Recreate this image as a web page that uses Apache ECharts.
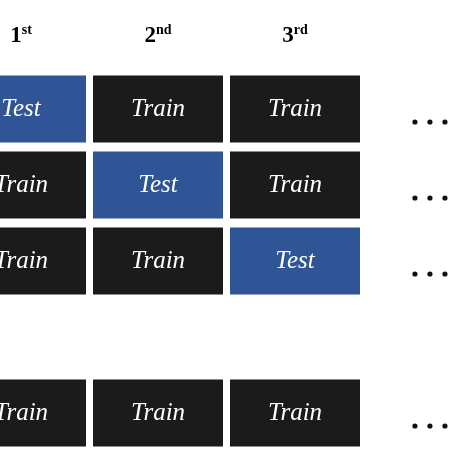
<!DOCTYPE html><html><head><meta charset="utf-8">
<script src="https://cdn.jsdelivr.net/npm/echarts@6/dist/echarts.min.js"></script>
<style>html,body{margin:0;padding:0;background:#fff}#c{width:453px;height:453px}</style></head><body><div id="c"></div>
<script>
const columns = [0, 1, 2];
const rows = [0, 1, 2, 4];
const testColumnByRow = [0, 1, 2, -1];
const headerBase = ["1", "2", "3"];
const headerSup = ["st", "nd", "rd"];
const dotsColumn = 2.985;

const cells = [];
rows.forEach((r, i) => columns.forEach(c => cells.push([c, r, testColumnByRow[i] === c ? 1 : 0])));
const headers = columns.map(c => [c, -0.97, c]);
const dots = rows.map(r => [dotsColumn, r]);

const chart = echarts.init(document.getElementById('c'));
chart.setOption({
  animation: false,
  grid: {left: 0, right: 0, top: 0, bottom: 0},
  xAxis: {type: 'value', min: -21/137, max: 432/137, show: false},
  yAxis: {type: 'value', inverse: true, min: -109/76, max: 344/76, show: false},
  series: [
    {type: 'custom', data: cells, renderItem: (p, api) => {
      const pt = api.coord([api.value(0), api.value(1)]);
      const w = 130, h = 67, test = api.value(2) === 1;
      return {type: 'group', children: [
        {type: 'rect', shape: {x: pt[0]-w/2, y: pt[1]-h/2, width: w, height: h},
         style: {fill: test ? '#2F5597' : '#1b1b1b'}},
        {type: 'text', x: pt[0], y: pt[1], style: {text: test ? 'Test' : 'Train', fill: '#fff',
          font: 'italic 25px "Liberation Serif", serif', align: 'center', verticalAlign: 'middle'}}
      ]};
    }},
    {type: 'custom', data: headers, renderItem: (p, api) => {
      const pt = api.coord([api.value(0), api.value(1)]);
      const i = api.value(2);
      return {type: 'text', x: pt[0], y: pt[1], style: {
        text: '{b|' + headerBase[i] + '}{s|' + headerSup[i] + '}', align: 'center', verticalAlign: 'middle',
        rich: {b: {font: 'bold 23px "Liberation Serif", serif', fill: '#000', verticalAlign: 'bottom'},
               s: {font: 'bold 14px "Liberation Serif", serif', fill: '#000', verticalAlign: 'top', padding: [0,0,10,0]}}}};
    }},
    {type: 'custom', data: dots, renderItem: (p, api) => {
      const pt = api.coord([api.value(0), api.value(1)]);
      return {type: 'group', children: [-15, 0, 15].map(dx => ({type: 'circle',
        shape: {cx: pt[0]+dx, cy: pt[1]+13, r: 2.6}, style: {fill: '#111'}}))};
    }}
  ]
});
</script></body></html>
